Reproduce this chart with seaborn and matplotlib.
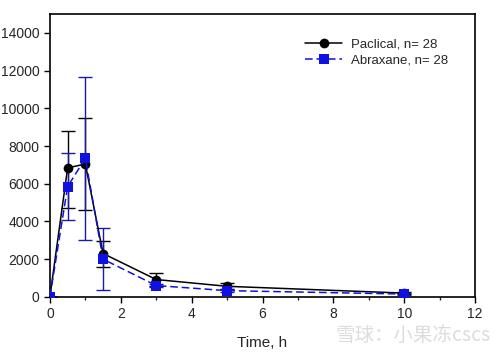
import matplotlib
matplotlib.use("Agg")
import matplotlib.pyplot as plt
import seaborn as sns
import numpy as np
import pandas as pd
from matplotlib.ticker import MultipleLocator

time_h = [0, 0.5, 1, 1.5, 3, 5, 10]
paclical_mean = [0, 6840, 7050, 2300, 920, 560, 200]
paclical_upper = [0, 8820, 9470, 2970, 1250, 720, 260]
paclical_lower = [0, 4700, 4600, 1600, 600, 400, 140]
abraxane_mean = [0, 5850, 7350, 2000, 600, 330, 150]
abraxane_upper = [0, 7640, 11680, 3640, 700, 400, 180]
abraxane_lower = [0, 4080, 3000, 355, 500, 260, 120]
series_names = ["Paclical, n= 28", "Abraxane, n= 28"]
x_ticks = [0, 2, 4, 6, 8, 10, 12]
y_ticks = [0, 2000, 4000, 6000, 8000, 10000, 12000, 14000]

sns.set_theme(style="white")
plt.rcParams['font.family'] = ['Liberation Sans', 'DejaVu Sans']

df = pd.DataFrame({
    "time": time_h * 2,
    "conc": paclical_mean + abraxane_mean,
    "series": [series_names[0]] * len(time_h) + [series_names[1]] * len(time_h),
})

fig = plt.figure(figsize=(4.94, 3.53), dpi=100)
ax = fig.add_axes([0.101, 0.159, 0.861, 0.801])

colors = {series_names[0]: "black", series_names[1]: "#1010e0"}
ecolors = {series_names[0]: "black", series_names[1]: "#1a1aa8"}

# error bars
for name, mean, up, lo in [
    (series_names[0], paclical_mean, paclical_upper, paclical_lower),
    (series_names[1], abraxane_mean, abraxane_upper, abraxane_lower),
]:
    m = np.array(mean); u = np.array(up); l = np.array(lo)
    ax.errorbar(time_h, m, yerr=[m - l, u - m], fmt="none",
                ecolor=ecolors[name], elinewidth=1.0, capsize=5, capthick=1.0, zorder=2)

sns.lineplot(data=df, x="time", y="conc", hue="series", style="series",
             palette=colors, markers={series_names[0]: "o", series_names[1]: "s"},
             dashes={series_names[0]: "", series_names[1]: (5, 2.5)},
             markersize=7, markeredgewidth=0, linewidth=1.1, ax=ax, zorder=3)

ax.set_xlim(0, 12)
ax.set_ylim(0, 15000)
ax.set_xticks(x_ticks)
ax.set_yticks(y_ticks)
ax.xaxis.set_minor_locator(MultipleLocator(1))
ax.tick_params(axis="both", which="major", direction="out", length=4, width=1,
               labelsize=10, color="black", bottom=True, left=True)
ax.tick_params(axis="x", which="minor", direction="out", length=2.5, width=1, bottom=True)
for s in ax.spines.values():
    s.set_color("black")
    s.set_linewidth(1.2)
ax.set_xlabel("Time, h", fontsize=11)
ax.xaxis.set_label_coords(0.5, -0.14)
ax.set_ylabel("")

leg = ax.legend(loc="upper right", bbox_to_anchor=(0.965, 0.955), frameon=False,
                fontsize=9.5, handlelength=2.8, labelspacing=0.25, handletextpad=0.7)

fig.text(0.68, 0.035, "雪球：小果冻cscs", fontsize=14, color="#dcdcdc",
         family=['Noto Sans CJK SC', 'DejaVu Sans'])

fig.savefig("out.png", dpi=100)
